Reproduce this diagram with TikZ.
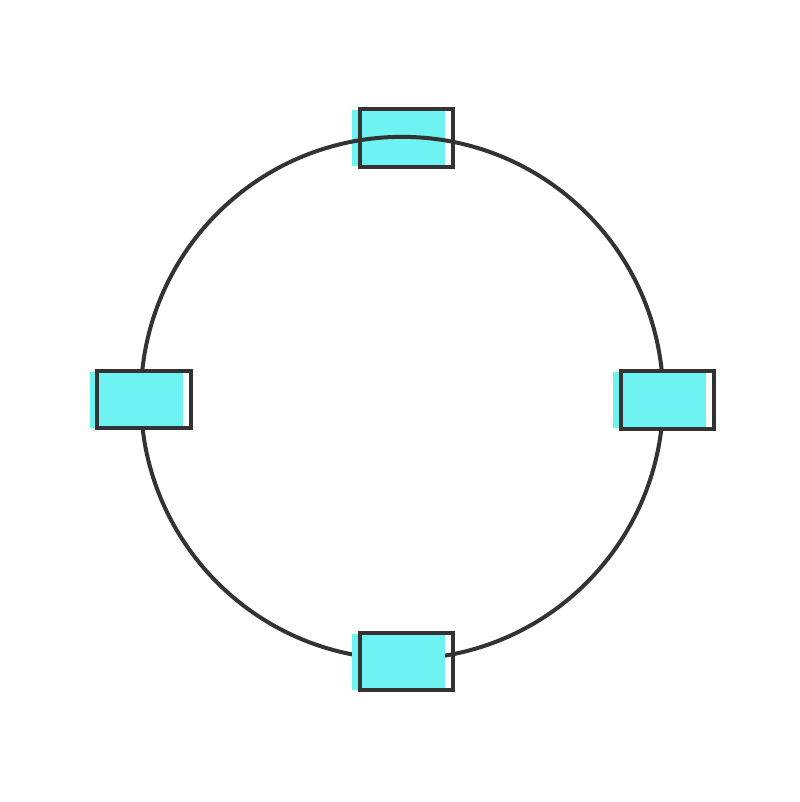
\documentclass[tikz,border=0pt]{standalone}
\usetikzlibrary{calc}
\definecolor{ink}{HTML}{333333}
\definecolor{aqua}{HTML}{6EF2F2}
\begin{document}
\begin{tikzpicture}[x=0.01cm,y=-0.01cm,
  box/.style={draw=ink,line width=0.04cm,rectangle,minimum width=0.93cm,minimum height=0.57cm,inner sep=0pt},
  boxfill/.style={fill=aqua},
  ring/.style={draw=ink,line width=0.04cm}]
\fill[white] (0,0) rectangle (800,802);
\useasboundingbox (0,0) rectangle (800,802);
\coordinate (c) at (402,398);
\coordinate (pt) at (406.5,138);
\coordinate (pb) at (406.5,661.5);
\coordinate (pl) at (144,399.5);
\coordinate (pr) at (667.5,400);
% top fill lies under the ring
\fill[boxfill] ($(pt)+(-54,-28)$) rectangle ($(pt)+(39,28)$);
\draw[ring] (c) circle[radius=2.61cm];
\foreach \p in {pb,pl,pr}{
  \fill[boxfill] ($(\p)+(-54,-28)$) rectangle ($(\p)+(39,28)$);
}
\node[box] (top) at (pt) {};
\node[box] (bottom) at (pb) {};
\node[box] (left) at (pl) {};
\node[box] (right) at (pr) {};
\end{tikzpicture}
\end{document}
